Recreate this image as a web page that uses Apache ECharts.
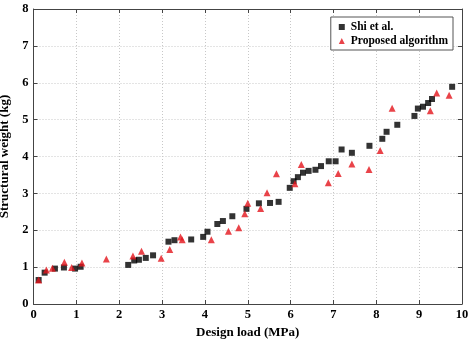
<!DOCTYPE html>
<html>
<head>
<meta charset="utf-8">
<script src="https://cdn.jsdelivr.net/npm/echarts@6/dist/echarts.min.js"></script>
<style>
  html, body { margin: 0; padding: 0; background: #fff; }
  #chart { width: 474px; height: 339px; }
</style>
</head>
<body>
<div id="chart"></div>
<script>
// Design load (MPa) and structural weight (kg) — Shi et al.
const shiLoad = [0.12, 0.26, 0.50, 0.71, 0.97, 1.10, 2.21, 2.35, 2.46, 2.62, 2.79, 3.15, 3.29, 3.68, 3.96, 4.06, 4.29, 4.42, 4.64, 4.97, 5.26, 5.52, 5.72, 5.98, 6.07, 6.17, 6.29, 6.42, 6.58, 6.71, 6.89, 7.05, 7.19, 7.43, 7.84, 8.14, 8.24, 8.49, 8.89, 8.97, 9.09, 9.21, 9.30, 9.77];
const shiWeight = [0.65, 0.85, 0.96, 0.99, 0.96, 1.01, 1.06, 1.18, 1.20, 1.25, 1.32, 1.69, 1.73, 1.75, 1.82, 1.96, 2.17, 2.25, 2.38, 2.58, 2.73, 2.74, 2.77, 3.15, 3.33, 3.44, 3.56, 3.61, 3.64, 3.74, 3.87, 3.87, 4.19, 4.10, 4.29, 4.48, 4.67, 4.86, 5.10, 5.30, 5.35, 5.45, 5.56, 5.89];

// Proposed algorithm
const propLoad = [0.12, 0.30, 0.44, 0.72, 0.89, 1.13, 1.70, 2.32, 2.52, 2.98, 3.18, 3.43, 3.47, 4.15, 4.55, 4.79, 4.93, 5.00, 5.30, 5.45, 5.67, 6.10, 6.25, 6.88, 7.11, 7.43, 7.83, 8.09, 8.37, 9.26, 9.41, 9.70];
const propWeight = [0.65, 0.92, 0.97, 1.13, 0.99, 1.11, 1.22, 1.30, 1.43, 1.24, 1.48, 1.82, 1.74, 1.74, 1.97, 2.07, 2.45, 2.73, 2.59, 3.02, 3.53, 3.26, 3.78, 3.29, 3.54, 3.80, 3.65, 4.16, 5.31, 5.24, 5.72, 5.66];

const xTicks = [0, 1, 2, 3, 4, 5, 6, 7, 8, 9, 10];
const yTicks = [0, 1, 2, 3, 4, 5, 6, 7, 8];

const seriesNames = ['Shi et al.', 'Proposed algorithm'];

const FONT = '"Liberation Serif", "Times New Roman", serif';
const RED = '#e3141c';
const FRAME = '#444';

function pairs(xs, ys) { return xs.map((x, i) => [x, ys[i]]); }

const baseAxis = {
  axisLine: { show: true, onZero: false, lineStyle: { color: FRAME, width: 1 } },
  axisTick: { show: true, inside: true, length: 4, lineStyle: { color: FRAME } },
  axisLabel: { color: '#000', fontFamily: FONT, fontWeight: 'bold', fontSize: 12.5 },
};

const chart = echarts.init(document.getElementById('chart'), null, { renderer: 'canvas' });
chart.setOption({
  animation: false,
  backgroundColor: '#fff',
  grid: { left: 33.5, right: 12, top: 9, bottom: 35, containLabel: false, outerBoundsMode: 'none' },
  legend: {
    right: 21, top: 17,
    orient: 'vertical',
    backgroundColor: '#fff',
    borderColor: '#555',
    borderWidth: 1,
    borderRadius: 0,
    padding: [4, 5, 3, 8],
    itemGap: 2,
    itemWidth: 6, itemHeight: 6,
    textStyle: { fontFamily: FONT, fontWeight: 'bold', fontSize: 11.5, color: '#000', padding: [0, 0, 0, 1] },
    data: [
      { name: seriesNames[0], icon: 'rect' },
      { name: seriesNames[1], icon: 'triangle' }
    ]
  },
  xAxis: [
    Object.assign({}, baseAxis, {
      type: 'value', min: xTicks[0], max: xTicks[xTicks.length - 1], interval: 1,
      name: 'Design load (MPa)', nameLocation: 'middle', nameGap: 20,
      nameTextStyle: { fontFamily: FONT, fontWeight: 'bold', fontSize: 13, color: '#000' },
      axisLabel: Object.assign({}, baseAxis.axisLabel, { margin: 4 }),
      splitLine: { show: true, lineStyle: { color: '#c8c8c8', type: [1, 2], width: 1 } }
    }),
    Object.assign({}, baseAxis, {
      type: 'value', position: 'top', min: 0, max: 10, interval: 1,
      axisLabel: { show: false }, splitLine: { show: false }
    })
  ],
  yAxis: [
    Object.assign({}, baseAxis, {
      type: 'value', min: yTicks[0], max: yTicks[yTicks.length - 1], interval: 1,
      name: 'Structural weight (kg)', nameLocation: 'middle', nameGap: 20, nameRotate: 90,
      nameTextStyle: { fontFamily: FONT, fontWeight: 'bold', fontSize: 13, color: '#000' },
      axisLabel: Object.assign({}, baseAxis.axisLabel, { margin: 5 }),
      splitLine: { show: true, lineStyle: { color: '#c8c8c8', type: [1, 2], width: 1 } }
    }),
    Object.assign({}, baseAxis, {
      type: 'value', position: 'right', min: 0, max: 8, interval: 1,
      axisLabel: { show: false }, splitLine: { show: false }
    })
  ],
  series: [
    {
      name: seriesNames[0], type: 'scatter', symbol: 'rect', symbolSize: 6,
      itemStyle: { color: '#000' },
      data: pairs(shiLoad, shiWeight), z: 3
    },
    {
      name: seriesNames[1], type: 'scatter', symbol: 'triangle', symbolSize: 7,
      itemStyle: { color: RED },
      data: pairs(propLoad, propWeight), z: 4
    }
  ]
});
</script>
</body>
</html>
